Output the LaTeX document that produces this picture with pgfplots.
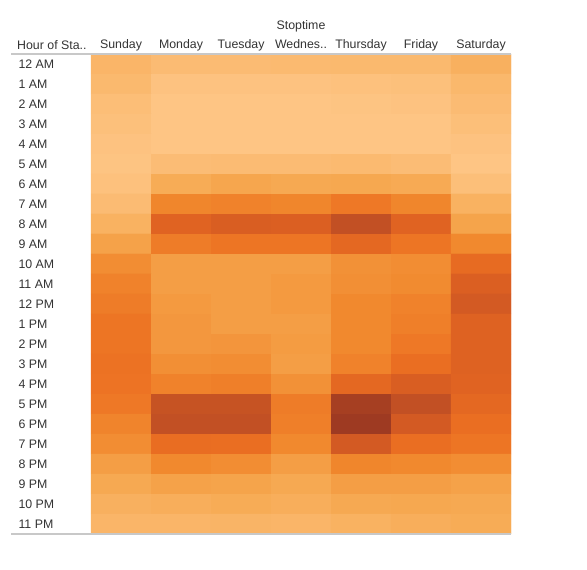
\documentclass[border=0pt]{standalone}
\usepackage{pgfplots}
\pgfplotsset{compat=1.18}
\usepackage{fontspec}
\setmainfont{Liberation Sans}
\definecolor{txt}{HTML}{333333}
\definecolor{rule}{HTML}{C8C8C8}
\pgfplotsset{colormap={tabor}{rgb255(0cm)=(254,198,134); rgb255(2.5cm)=(246,168,80); rgb255(4cm)=(241,137,46); rgb255(5.5cm)=(236,112,34); rgb255(6.5cm)=(221,96,34); rgb255(8cm)=(190,78,36); rgb255(10cm)=(158,58,34)}}
\begin{document}
\begin{tikzpicture}[x=1bp,y=1bp]
\useasboundingbox (0,0) rectangle (587,570);
\begin{axis}[
  at={(91bp,36bp)}, anchor=south west,
  scale only axis, width=420bp, height=480bp,
  xmin=-0.5, xmax=6.5, ymin=-0.5, ymax=23.5,
  y dir=reverse,
  axis line style={draw=none},
  major tick length=0pt,
  xtick={0,...,6},
  xticklabels={Sunday,Monday,Tuesday,{Wednes..},Thursday,Friday,Saturday},
  xticklabel pos=top,
  xticklabel style={anchor=center, text height=9bp, text depth=2.5bp, yshift=9bp},
  ytick={0,...,23},
  yticklabels={12 AM,1 AM,2 AM,3 AM,4 AM,5 AM,6 AM,7 AM,8 AM,9 AM,10 AM,11 AM,12 PM,1 PM,2 PM,3 PM,4 PM,5 PM,6 PM,7 PM,8 PM,9 PM,10 PM,11 PM},
  yticklabel style={anchor=west, xshift=-76bp},
  ticklabel style={font=\fontsize{12.4}{14}\selectfont, text=txt},
  colormap name=tabor,
  point meta min=0, point meta max=100,
  clip=false,
]
\addplot[matrix plot*, mesh/cols=7, point meta=explicit] coordinates {
(0,0)[14] (1,0)[9] (2,0)[9] (3,0)[10] (4,0)[11] (5,0)[11] (6,0)[18]

(0,1)[11] (1,1)[3] (2,1)[3] (3,1)[3] (4,1)[4] (5,1)[5] (6,1)[12]

(0,2)[7] (1,2)[1] (2,2)[1] (3,2)[1] (4,2)[2] (5,2)[3] (6,2)[9]

(0,3)[5] (1,3)[1] (2,3)[1] (3,3)[1] (4,3)[1] (5,3)[1] (6,3)[6]

(0,4)[3] (1,4)[1] (2,4)[1] (3,4)[1] (4,4)[1] (5,4)[1] (6,4)[3]

(0,5)[2] (1,5)[8] (2,5)[9] (3,5)[9] (4,5)[10] (5,5)[8] (6,5)[1]

(0,6)[4] (1,6)[22] (2,6)[26] (3,6)[24] (4,6)[25] (5,6)[23] (6,6)[6]

(0,7)[9] (1,7)[42] (2,7)[44] (3,7)[42] (4,7)[50] (5,7)[42] (6,7)[17]

(0,8)[17] (1,8)[63] (2,8)[67] (3,8)[66] (4,8)[78] (5,8)[63] (6,8)[27]

(0,9)[28] (1,9)[48] (2,9)[52] (3,9)[52] (4,9)[60] (5,9)[52] (6,9)[40]

(0,10)[38] (1,10)[30] (2,10)[30] (3,10)[30] (4,10)[36] (5,10)[38] (6,10)[58]

(0,11)[44] (1,11)[30] (2,11)[30] (3,11)[32] (4,11)[37] (5,11)[39] (6,11)[66]

(0,12)[48] (1,12)[32] (2,12)[30] (3,12)[32] (4,12)[40] (5,12)[44] (6,12)[70]

(0,13)[52] (1,13)[33] (2,13)[30] (3,13)[30] (4,13)[40] (5,13)[46] (6,13)[64]

(0,14)[52] (1,14)[33] (2,14)[34] (3,14)[31] (4,14)[40] (5,14)[50] (6,14)[64]

(0,15)[54] (1,15)[37] (2,15)[38] (3,15)[30] (4,15)[44] (5,15)[56] (6,15)[64]

(0,16)[53] (1,16)[44] (2,16)[46] (3,16)[36] (4,16)[60] (5,16)[67] (6,16)[63]

(0,17)[50] (1,17)[76] (2,17)[76] (3,17)[48] (4,17)[95] (5,17)[78] (6,17)[60]

(0,18)[43] (1,18)[78] (2,18)[78] (3,18)[46] (4,18)[100] (5,18)[70] (6,18)[56]

(0,19)[38] (1,19)[57] (2,19)[56] (3,19)[40] (4,19)[70] (5,19)[56] (6,19)[52]

(0,20)[30] (1,20)[40] (2,20)[38] (3,20)[30] (4,20)[42] (5,20)[40] (6,20)[38]

(0,21)[24] (1,21)[28] (2,21)[27] (3,21)[24] (4,21)[30] (5,21)[30] (6,21)[28]

(0,22)[18] (1,22)[20] (2,22)[22] (3,22)[20] (4,22)[24] (5,22)[25] (6,22)[24]

(0,23)[14] (1,23)[14] (2,23)[15] (3,23)[14] (4,23)[17] (5,23)[20] (6,23)[22]
};
\end{axis}
\draw[rule, line width=1.5bp] (11,516) -- (511,516);
\draw[rule, line width=1.5bp] (11,36) -- (511,36);
\node[text=txt, font=\fontsize{12.4}{14}\selectfont, anchor=west, inner sep=0pt] at (17,525) {Hour of Sta..};
\node[text=txt, font=\fontsize{12.4}{14}\selectfont, inner sep=0pt] at (301,544) {Stoptime};
\end{tikzpicture}
\end{document}
